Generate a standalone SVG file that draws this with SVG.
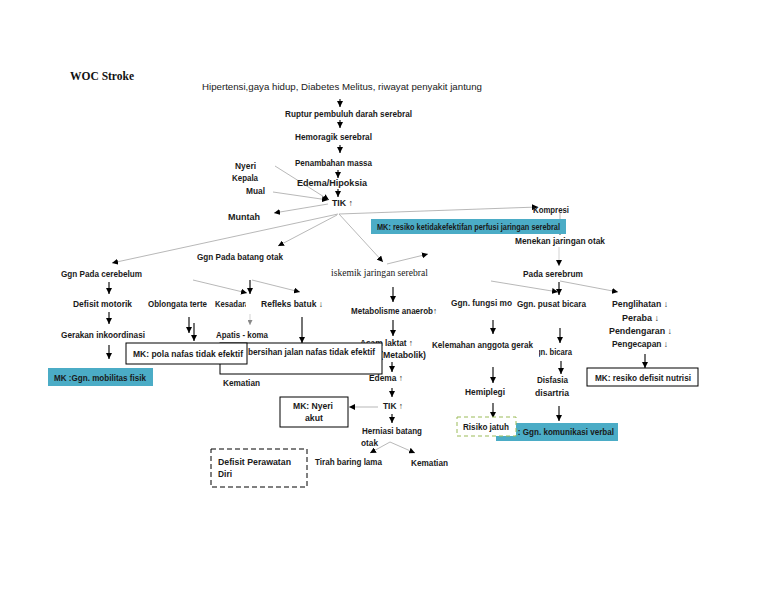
<svg xmlns="http://www.w3.org/2000/svg" width="768" height="594" viewBox="0 0 768 594">
<style>
.t{font-family:"Liberation Sans",Arial,sans-serif;font-size:8.5px;font-weight:bold;fill:#1a1a1a}
.r{font-family:"Liberation Sans",Arial,sans-serif;font-size:9px;fill:#1a1a1a}
.s{font-family:"Liberation Serif","Times New Roman",serif;font-size:9.5px;fill:#1a1a1a}
.g{stroke:#9a9a9a;stroke-width:0.7;fill:none}
.b{stroke:#000;stroke-width:1.1;fill:none}
.lg{stroke:#c8c8c8;stroke-width:0.8;fill:none}
.box{fill:#fff;stroke:#000;stroke-width:1}
.cy{fill:#4bacc6}
.dash{fill:#fff;stroke:#000;stroke-width:1;stroke-dasharray:5 3}
.gd{fill:#fff;stroke:#9bbb59;stroke-width:1;stroke-dasharray:4 3}
</style>
<defs>
<marker id="ah" viewBox="0 0 10 10" refX="10" refY="5" markerWidth="6" markerHeight="6" markerUnits="userSpaceOnUse" orient="auto"><path d="M0,0 L10,5 L0,10 z" fill="#000"/></marker>
<marker id="ahl" viewBox="0 0 10 10" refX="10" refY="5" markerWidth="5" markerHeight="5" markerUnits="userSpaceOnUse" orient="auto"><path d="M0,0 L10,5 L0,10 z" fill="#888"/></marker>
<clipPath id="ck"><rect x="200" y="290" width="46" height="25"/></clipPath>
<clipPath id="cb"><rect x="539" y="340" width="60" height="25"/></clipPath>
</defs>
<rect width="768" height="594" fill="#fff"/>

<g id="title"><text x="70" y="80" font-family="Liberation Serif,'Times New Roman',serif" font-size="12.5" font-weight="bold" fill="#111" textLength="64" lengthAdjust="spacingAndGlyphs">WOC Stroke</text></g>

<g id="connectors">
<line class="b" x1="340" y1="99" x2="340" y2="107" marker-end="url(#ah)"/>
<line class="b" x1="340" y1="120" x2="340" y2="128" marker-end="url(#ah)"/>
<line class="b" x1="340" y1="145" x2="340" y2="153" marker-end="url(#ah)"/>
<line class="b" x1="338" y1="170" x2="338" y2="178" marker-end="url(#ah)"/>
<line class="b" x1="338" y1="189" x2="338" y2="197" marker-end="url(#ah)"/>
<line class="g" x1="275" y1="166" x2="329" y2="200" marker-end="url(#ah)"/>
<line class="g" x1="273" y1="192" x2="328" y2="200" marker-end="url(#ah)"/>
<line class="g" x1="328" y1="204" x2="274" y2="213" marker-end="url(#ah)"/>
<line class="g" x1="339" y1="214" x2="538" y2="207" marker-end="url(#ah)"/>
<line class="g" x1="338" y1="214" x2="112" y2="263" marker-end="url(#ah)"/>
<line class="g" x1="337" y1="215" x2="278" y2="246" marker-end="url(#ah)"/>
<line class="g" x1="339" y1="214" x2="383" y2="262" marker-end="url(#ah)"/>
<line class="g" x1="387" y1="264" x2="428" y2="254" marker-end="url(#ah)"/>
<line class="g" x1="560" y1="213" x2="560" y2="235" marker-end="url(#ah)"/>
<line class="lg" x1="559" y1="247" x2="559" y2="266" marker-end="url(#ah)"/>
<line class="b" x1="559" y1="282" x2="559" y2="295" marker-end="url(#ah)"/>
<line class="g" x1="491" y1="281" x2="558" y2="292" marker-end="url(#ah)"/>
<line class="g" x1="560" y1="281" x2="618" y2="292" marker-end="url(#ah)"/>
<line class="b" x1="109" y1="282" x2="109" y2="294" marker-end="url(#ah)"/>
<line class="b" x1="109" y1="312" x2="109" y2="324" marker-end="url(#ah)"/>
<line class="b" x1="109" y1="345" x2="109" y2="359" marker-end="url(#ah)"/>
<line class="b" x1="250" y1="280" x2="250" y2="294" marker-end="url(#ah)"/>
<line class="g" x1="193" y1="280" x2="247" y2="293" marker-end="url(#ah)"/>
<line class="g" x1="252" y1="280" x2="300" y2="292" marker-end="url(#ah)"/>
<line class="b" x1="189" y1="317" x2="189" y2="333" marker-end="url(#ah)"/>
<line class="b" x1="194" y1="323" x2="194" y2="341" marker-end="url(#ah)"/>
<line class="lg" x1="250" y1="314" x2="250" y2="325" marker-end="url(#ahl)"/>
<line class="b" x1="302" y1="317" x2="302" y2="343" marker-end="url(#ah)"/>
<line class="b" x1="393" y1="287" x2="393" y2="302" marker-end="url(#ah)"/>
<line class="b" x1="393" y1="320" x2="393" y2="336" marker-end="url(#ah)"/>
<line class="b" x1="392" y1="362" x2="392" y2="372" marker-end="url(#ah)"/>
<line class="b" x1="392" y1="388" x2="392" y2="397" marker-end="url(#ah)"/>
<line class="g" x1="378" y1="407" x2="349" y2="407" marker-end="url(#ah)"/>
<line class="b" x1="392" y1="414" x2="392" y2="423" marker-end="url(#ah)"/>
<line class="g" x1="390" y1="442" x2="370" y2="453" marker-end="url(#ah)"/>
<line class="g" x1="390" y1="442" x2="415" y2="453" marker-end="url(#ah)"/>
<line class="b" x1="493" y1="320" x2="493" y2="334" marker-end="url(#ah)"/>
<line class="b" x1="493" y1="367" x2="493" y2="383" marker-end="url(#ah)"/>
<line class="b" x1="493" y1="403" x2="493" y2="418" marker-end="url(#ah)"/>
<line class="b" x1="560" y1="328" x2="560" y2="343" marker-end="url(#ah)"/>
<line class="b" x1="561" y1="361" x2="561" y2="374" marker-end="url(#ah)"/>
<line class="b" x1="559" y1="406" x2="559" y2="421" marker-end="url(#ah)"/>
<line class="b" x1="645" y1="354" x2="645" y2="368" marker-end="url(#ah)"/>
</g>

<g id="n-cause"><text class="r" x="202" y="90" textLength="280" lengthAdjust="spacingAndGlyphs">Hipertensi,gaya hidup, Diabetes Melitus, riwayat penyakit jantung</text></g>
<g id="n-ruptur"><text class="t" x="285" y="117" textLength="127" lengthAdjust="spacingAndGlyphs">Ruptur pembuluh darah serebral</text></g>
<g id="n-hemoragik"><text class="t" x="295" y="140" textLength="77" lengthAdjust="spacingAndGlyphs">Hemoragik serebral</text></g>
<g id="n-massa"><text class="t" x="295" y="166" textLength="77" lengthAdjust="spacingAndGlyphs">Penambahan massa</text></g>
<g id="n-edema1"><text class="t" x="297" y="186" textLength="70" lengthAdjust="spacingAndGlyphs">Edema/Hipoksia</text></g>
<g id="n-tik1"><text class="t" x="332" y="206" textLength="21" lengthAdjust="spacingAndGlyphs">TIK ↑</text></g>
<g id="n-nyeri"><text class="t" x="235" y="169" textLength="21" lengthAdjust="spacingAndGlyphs">Nyeri</text><text class="t" x="232" y="181" textLength="26" lengthAdjust="spacingAndGlyphs">Kepala</text></g>
<g id="n-mual"><text class="t" x="246" y="194" textLength="19" lengthAdjust="spacingAndGlyphs">Mual</text></g>
<g id="n-muntah"><text class="t" x="228" y="220" textLength="32" lengthAdjust="spacingAndGlyphs">Muntah</text></g>

<g id="n-mk-perfusi"><rect class="cy" x="371" y="219" width="195" height="15"/><text class="t" x="377" y="230" font-size="7.5" textLength="183" lengthAdjust="spacingAndGlyphs">MK: resiko ketidakefektifan perfusi jaringan serebral</text></g>
<g id="n-kompresi"><text class="t" x="533" y="213" textLength="36" lengthAdjust="spacingAndGlyphs">Kompresi</text></g>
<g id="n-menekan"><text class="t" x="515" y="244" textLength="90" lengthAdjust="spacingAndGlyphs">Menekan jaringan otak</text></g>
<g id="n-serebrum"><text class="t" x="523" y="277" textLength="60" lengthAdjust="spacingAndGlyphs">Pada serebrum</text></g>
<g id="n-fungsi"><text class="t" x="451" y="306" textLength="61" lengthAdjust="spacingAndGlyphs">Ggn. fungsi mo</text></g>
<g id="n-bicara"><text class="t" x="517" y="307" textLength="69" lengthAdjust="spacingAndGlyphs">Ggn. pusat bicara</text></g>
<g id="n-indera"><text class="t" x="612" y="307" textLength="56" lengthAdjust="spacingAndGlyphs">Penglihatan ↓</text><text class="t" x="622" y="321" textLength="37" lengthAdjust="spacingAndGlyphs">Peraba ↓</text><text class="t" x="609" y="334" textLength="63" lengthAdjust="spacingAndGlyphs">Pendengaran ↓</text><text class="t" x="612" y="347" textLength="56" lengthAdjust="spacingAndGlyphs">Pengecapan ↓</text></g>
<g id="n-mk-nutrisi"><rect class="box" x="587" y="368" width="111" height="18"/><text class="t" x="595" y="381" textLength="96" lengthAdjust="spacingAndGlyphs">MK: resiko defisit nutrisi</text></g>

<g id="n-iskemik"><text class="s" x="331" y="276" textLength="97" lengthAdjust="spacingAndGlyphs">iskemik jaringan serebral</text></g>
<g id="n-metabolisme"><text class="t" x="351" y="314" textLength="86" lengthAdjust="spacingAndGlyphs">Metabolisme anaerob↑</text></g>

<g id="n-cerebelum"><text class="t" x="61" y="277" textLength="81" lengthAdjust="spacingAndGlyphs">Ggn Pada cerebelum</text></g>
<g id="n-batang"><text class="t" x="197" y="260" textLength="86" lengthAdjust="spacingAndGlyphs">Ggn Pada batang otak</text></g>
<g id="n-defisit-motorik"><text class="t" x="73" y="307" textLength="59" lengthAdjust="spacingAndGlyphs">Defisit motorik</text></g>
<g id="n-inkoordinasi"><text class="t" x="61" y="338" textLength="84" lengthAdjust="spacingAndGlyphs">Gerakan inkoordinasi</text></g>
<g id="n-mk-mobilitas"><rect class="cy" x="48" y="368" width="105" height="18"/><text class="t" x="54" y="381" textLength="92" lengthAdjust="spacingAndGlyphs">MK :Ggn. mobilitas fisik</text></g>
<g id="n-oblongata"><text class="t" x="148" y="307" textLength="59" lengthAdjust="spacingAndGlyphs">Oblongata terte</text></g>
<g id="n-kesadaran"><text class="t" x="215" y="307" textLength="39" lengthAdjust="spacingAndGlyphs" clip-path="url(#ck)">Kesadaran</text></g>
<g id="n-apatis"><text class="t" x="216" y="338" textLength="52" lengthAdjust="spacingAndGlyphs">Apatis - koma</text></g>
<g id="n-refleks"><text class="t" x="261" y="307" textLength="62" lengthAdjust="spacingAndGlyphs">Refleks batuk ↓</text></g>
<g id="n-kematian1"><text class="t" x="223" y="386" textLength="37" lengthAdjust="spacingAndGlyphs">Kematian</text></g>

<g id="n-laktat"><text class="t" x="360" y="346" textLength="53" lengthAdjust="spacingAndGlyphs">Asam laktat ↑</text></g>
<g id="n-metabolik"><text class="t" x="380" y="358" textLength="46" lengthAdjust="spacingAndGlyphs">(Metabolik)</text></g>

<g id="n-mk-bersihan"><rect class="box" x="220" y="343" width="162" height="31"/><text class="t" x="248" y="355" textLength="127" lengthAdjust="spacingAndGlyphs">bersihan jalan nafas tidak efektif</text></g>
<g id="n-mk-pola"><rect class="box" x="126" y="343" width="121" height="21"/><text class="t" x="133" y="357" textLength="110" lengthAdjust="spacingAndGlyphs">MK: pola nafas tidak efektif</text></g>

<g id="n-edema2"><text class="t" x="369" y="381" textLength="34" lengthAdjust="spacingAndGlyphs">Edema ↑</text></g>
<g id="n-tik2"><text class="t" x="383" y="409" textLength="20" lengthAdjust="spacingAndGlyphs">TIK ↑</text></g>
<g id="n-mk-nyeri"><rect class="box" x="280" y="397" width="68" height="30"/><text class="t" x="293" y="409" textLength="40" lengthAdjust="spacingAndGlyphs">MK: Nyeri</text><text class="t" x="305" y="421" textLength="18" lengthAdjust="spacingAndGlyphs">akut</text></g>
<g id="n-herniasi"><text class="t" x="362" y="434" textLength="60" lengthAdjust="spacingAndGlyphs">Herniasi batang</text><text class="t" x="361" y="446" textLength="17" lengthAdjust="spacingAndGlyphs">otak</text></g>
<g id="n-tirah"><text class="t" x="315" y="465" textLength="67" lengthAdjust="spacingAndGlyphs">Tirah baring lama</text></g>
<g id="n-kematian2"><text class="t" x="411" y="466" textLength="37" lengthAdjust="spacingAndGlyphs">Kematian</text></g>
<g id="n-perawatan"><rect class="dash" x="211" y="449" width="96" height="38"/><text class="t" x="218" y="465" textLength="73" lengthAdjust="spacingAndGlyphs">Defisit Perawatan</text><text class="t" x="218" y="477" textLength="14" lengthAdjust="spacingAndGlyphs">Diri</text></g>

<g id="n-kelemahan"><text class="t" x="432" y="348" textLength="101" lengthAdjust="spacingAndGlyphs">Kelemahan anggota gerak</text></g>
<g id="n-hemiplegi"><text class="t" x="465" y="395" textLength="40" lengthAdjust="spacingAndGlyphs">Hemiplegi</text></g>
<g id="n-ggn-bicara"><text class="t" x="530" y="355" textLength="42" lengthAdjust="spacingAndGlyphs" clip-path="url(#cb)">Ggn. bicara</text></g>
<g id="n-disfasia"><text class="t" x="537" y="383" textLength="31" lengthAdjust="spacingAndGlyphs">Disfasia</text><text class="t" x="535" y="396" textLength="34" lengthAdjust="spacingAndGlyphs">disartria</text></g>
<g id="n-mk-komunikasi"><rect class="cy" x="496" y="423" width="122" height="18"/><text class="t" x="503" y="435" textLength="111" lengthAdjust="spacingAndGlyphs">MK : Ggn. komunikasi verbal</text></g>
<g id="n-risiko-jatuh"><rect class="gd" x="457" y="417" width="59" height="19"/><text class="t" x="463" y="430" textLength="46" lengthAdjust="spacingAndGlyphs">Risiko jatuh</text></g>
</svg>
